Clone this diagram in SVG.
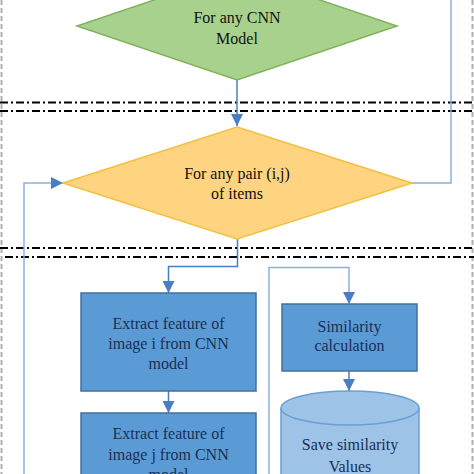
<svg xmlns="http://www.w3.org/2000/svg" width="474" height="474" viewBox="0 0 474 474">
<defs>
<marker id="ah" markerWidth="12" markerHeight="12" viewBox="0 0 12 12" refX="12" refY="6" orient="auto" markerUnits="userSpaceOnUse">
<path d="M0,0 L12,6 L0,12 Z" fill="#4a7ec2"/>
</marker>
</defs>
<style>
.bd{stroke:#000;stroke-width:2;stroke-dasharray:8 3 2 3;fill:none}
.gb{stroke:#b0b0b0;stroke-width:2;stroke-dasharray:5 3;fill:none}
.cd{stroke:#4a7ec2;stroke-width:1.5;fill:none}
.cl{stroke:#8cb0dc;stroke-width:1.5;fill:none}
.t{font-family:"Liberation Serif","Times New Roman",serif;font-size:16px;text-anchor:middle;fill:#111}
.tb{font-family:"Liberation Serif","Times New Roman",serif;font-size:16px;text-anchor:middle;fill:#1a2f55}
.box{fill:#5b9bd5;stroke:#41719c;stroke-width:1.5}
</style>
<rect width="474" height="474" fill="#fff"/>
<g id="borders">
<line class="gb" x1="1.5" y1="0" x2="1.5" y2="474"/>
<line class="gb" x1="472.5" y1="0" x2="472.5" y2="474"/>
<line class="bd" x1="0" y1="102.5" x2="474" y2="102.5"/>
<line class="bd" x1="0" y1="111" x2="474" y2="111"/>
<line class="bd" x1="0" y1="248" x2="474" y2="248"/>
<line class="bd" x1="5" y1="257" x2="474" y2="257"/>
</g>
<g id="connectors">
<path class="cd" d="M237,80 V126" marker-end="url(#ah)"/>
<path class="cl" d="M412,183 H451 V0"/>
<path class="cl" d="M24,474 V183 H63" marker-end="url(#ah)"/>
<path class="cd" d="M237.5,239 V266.5 H168.5 V293" marker-end="url(#ah)"/>
<path class="cd" d="M168.5,391 V413" marker-end="url(#ah)"/>
<path class="cl" d="M269,474 V267.5 H349 V304" marker-end="url(#ah)"/>
<path class="cd" d="M349,371 V391" marker-end="url(#ah)"/>
</g>
<g id="node-cnn">
<polygon points="237,-28 397,26 237,80 77,26" fill="#a9d18e" stroke="#7fb35a" stroke-width="1.5"/>
<text class="t" x="237" y="23">For any CNN</text>
<text class="t" x="237" y="44">Model</text>
</g>
<g id="node-pair">
<polygon points="237,127 412,183 237,239 63,183" fill="#ffd480" stroke="#f2c040" stroke-width="1.5"/>
<text class="t" x="237" y="178.5">For any pair (i,j)</text>
<text class="t" x="237" y="199">of items</text>
</g>
<g id="node-extract-i">
<rect class="box" x="81" y="293" width="175" height="98"/>
<text class="tb" x="168.5" y="328.5">Extract feature of</text>
<text class="tb" x="168.5" y="348.5">image i from CNN</text>
<text class="tb" x="168.5" y="368.5">model</text>
</g>
<g id="node-extract-j">
<rect class="box" x="81" y="413" width="175" height="98"/>
<text class="tb" x="168.5" y="438.5">Extract feature of</text>
<text class="tb" x="168.5" y="459.5">image j from CNN</text>
<text class="tb" x="168.5" y="480">model</text>
</g>
<g id="node-similarity">
<rect class="box" x="282" y="304" width="135" height="67"/>
<text class="tb" x="349.5" y="331.5">Similarity</text>
<text class="tb" x="349.5" y="350.5">calculation</text>
</g>
<g id="node-save">
<path d="M281,408 V490 H419 V408" fill="#9dc3e6" stroke="#6a9fd6" stroke-width="1.5"/>
<ellipse cx="350" cy="408" rx="69" ry="17" fill="#9dc3e6" stroke="#6a9fd6" stroke-width="1.5"/>
<text class="tb" x="350" y="449.5">Save similarity</text>
<text class="tb" x="350" y="471.5">Values</text>
</g>
</svg>
